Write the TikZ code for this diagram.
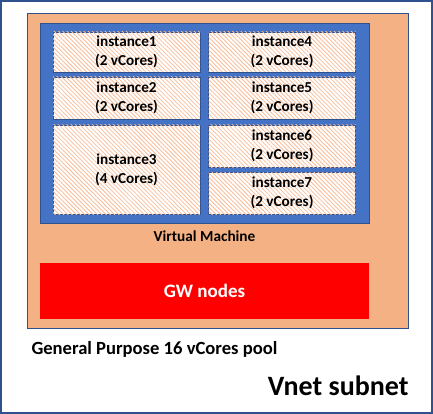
\documentclass[tikz,border=0pt]{standalone}
\usepackage{fontspec}
\setmainfont{Carlito}
\usetikzlibrary{patterns.meta}
\definecolor{frameblue}{HTML}{2F528F}
\definecolor{vmblue}{HTML}{4472C4}
\definecolor{poolorange}{HTML}{F4B183}
\definecolor{hatch}{HTML}{F9BE98}
\begin{document}
\begin{tikzpicture}[x=1pt,y=-1pt,
    box/.style={draw=frameblue,line width=1pt,minimum width=#1,inner sep=0pt,outer sep=0pt},
    inst/.style={draw=frameblue,line width=0.8pt,fill=white,
      postaction={pattern={Lines[angle=-45,distance=3pt,line width=0.8pt]},pattern color=hatch},
      minimum width=147pt,align=center,inner sep=0pt,outer sep=0pt,
      font=\bfseries\fontsize{15.2}{19}\selectfont}]
    \useasboundingbox (0,0) rectangle (433,414);
    % outer frame
    \node[draw=frameblue,line width=2pt,minimum width=431pt,minimum height=412pt,inner sep=0pt] (vnet) at (216.5,207) {};
    % pool, VM, gateway
    \node[box=381pt,fill=poolorange,minimum height=314pt] (pool) at (217.5,171) {};
    \node[box=329pt,fill=vmblue,minimum height=199pt] (vm) at (204.5,123.5) {};
    \node[fill=red,minimum width=329pt,minimum height=56pt,inner sep=0pt,text=white,
      font=\bfseries\fontsize{19}{22}\selectfont] (gw) at (204.5,291) {GW nodes};

    % instances
    \node[inst,minimum height=40pt] (inst1) at (126.5,52) {instance1\\(2 vCores)};
    \node[inst,minimum height=42pt] (inst2) at (126.5,98) {instance2\\(2 vCores)};
    \node[inst,minimum height=89pt] (inst3) at (126.5,169.5) {instance3\\(4 vCores)};
    \node[inst,minimum height=40pt] (inst4) at (282,52) {instance4\\(2 vCores)};
    \node[inst,minimum height=42pt] (inst5) at (282,98) {instance5\\(2 vCores)};
    \node[inst,minimum height=42pt] (inst6) at (282,146) {instance6\\(2 vCores)};
    \node[inst,minimum height=42pt] (inst7) at (282,193) {instance7\\(2 vCores)};

    % labels
    \node[font=\bfseries\fontsize{15.3}{18}\selectfont] (vmlabel) at (204.5,236) {Virtual Machine};
    \node[anchor=west,font=\bfseries\fontsize{18.6}{22}\selectfont] (poollabel) at (28,349) {General Purpose 16 vCores pool};
    \node[anchor=east,font=\bfseries\fontsize{28}{32}\selectfont] (vnetlabel) at (412,386) {Vnet subnet};
\end{tikzpicture}
\end{document}
